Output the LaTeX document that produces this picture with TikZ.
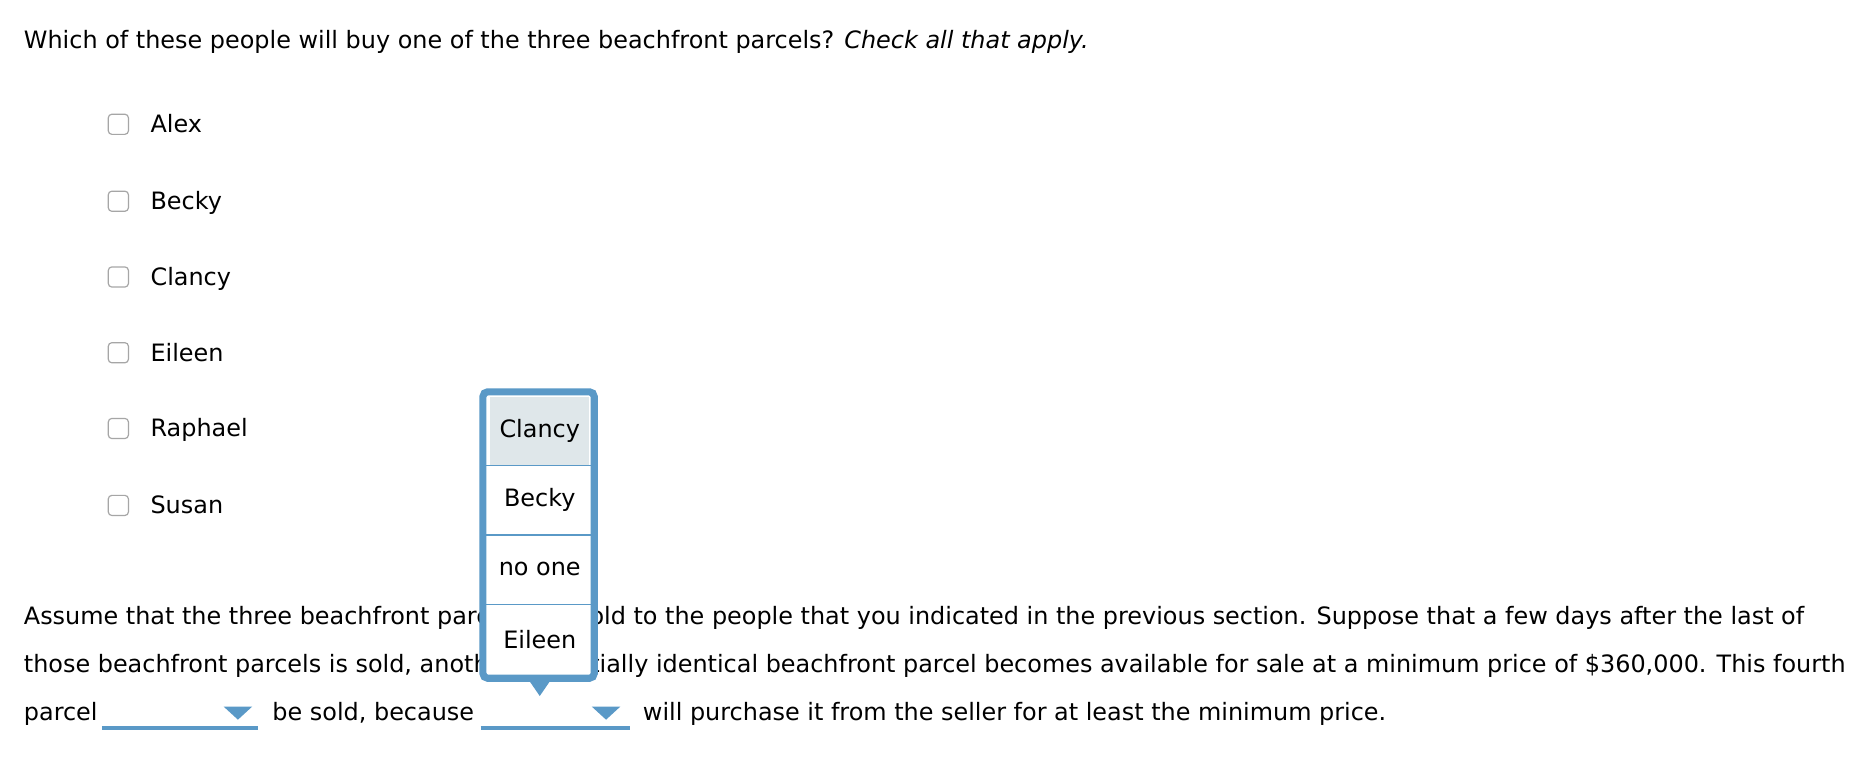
\documentclass[tikz,border=0pt]{standalone}
\usepackage{fontspec}
\setmainfont{DejaVu Sans}
\definecolor{blu}{HTML}{5A99C7}
\definecolor{hl}{HTML}{DFE7EA}
\begin{document}
\begin{tikzpicture}[x=1pt,y=-1pt,
  txt/.style={anchor=base west,inner sep=0pt,font=\fontsize{20.2}{24}\selectfont},
  cbox/.style={draw=gray!70,line width=1pt,rounded corners=3pt,minimum width=17pt,minimum height=17pt,inner sep=0pt},
  item/.style={minimum width=84pt,minimum height=58pt,inner sep=0pt,font=\fontsize{20.2}{24}\selectfont}]
\useasboundingbox[fill=white] (0,0) rectangle (1568,654);
\node[txt] (q) at (20,41) {Which of these people will buy one of the three beachfront parcels? \textit{Check all that apply.}};
\foreach \n/\y in {a/105,b/170,c/234,e/298,r/362,s/427}{\node[cbox] (cb\n) at (100,\y) {};}
\node[txt] (la) at (127,112) {Alex};
\node[txt] (lb) at (127,177) {Becky};
\node[txt] (lc) at (127,241) {Clancy};
\node[txt] (le) at (127,305) {Eileen};
\node[txt] (lr) at (127,369) {Raphael};
\node[txt] (ls) at (127,434) {Susan};
\node[txt] (p1) at (20,528) {Assume that the three beachfront parcels are sold to the people that you indicated in the previous section. Suppose that a few days after the last of};
\node[txt] (p2) at (20,568) {those beachfront parcels is sold, another essentially identical beachfront parcel becomes available for sale at a minimum price of \$360,000. This fourth};
\node[txt] (p3) at (20,609) {parcel};
\node[txt] (p4) at (230,609) {be sold, because};
\node[txt] (p5) at (543,609) {will purchase it from the seller for at least the minimum price.};
\coordinate (d1a) at (86,615); \coordinate (d1b) at (218,615);
\coordinate (d2a) at (406,615); \coordinate (d2b) at (532,615);
\draw[blu,line width=3pt] (d1a) -- (d1b);
\draw[blu,line width=3pt] (d2a) -- (d2b);
\fill[blu] (189,597) -- (213,597) -- (201,608) -- cycle;
\fill[blu] (500,597) -- (524,597) -- (512,608) -- cycle;
% popup
\fill[blu] (445,572) -- (467,572) -- (456,588) -- cycle;
\draw[blu,line width=6pt,fill=white,rounded corners=4pt] (408,331) rectangle (502,573);
\node[item,fill=hl] (o1) at (456,364) {Clancy};
\node[item] (o2) at (456,422) {Becky};
\node[item] (o3) at (456,481) {no one};
\node[item] (o4) at (456,540) {Eileen};
\foreach \yy in {393,452,511}{\draw[blu,line width=1pt] (411,\yy) -- (499,\yy);}
\end{tikzpicture}
\end{document}
